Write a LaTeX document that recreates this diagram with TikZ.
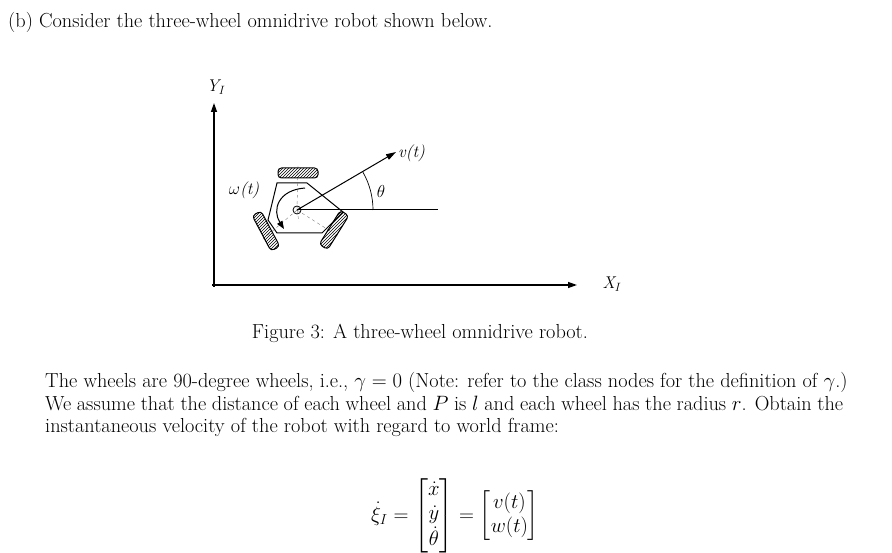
\documentclass[tikz,border=0pt]{standalone}
\usepackage{amsmath}
\usetikzlibrary{patterns,arrows.meta}
\begin{document}
\begin{tikzpicture}[x=1pt,y=-1pt,
  txt/.style={inner sep=0pt,font=\fontsize{20.3}{24}\selectfont},
  lbl/.style={inner sep=0pt,font=\fontsize{17}{20}\selectfont},
  ax/.style={line width=1.3pt,-{Triangle[length=9pt,width=6pt]}},
  wheel/.style={draw,line width=1pt,rounded corners=3.5pt,pattern=north east lines}]
\useasboundingbox (0,0) rectangle (892,553);
\node[txt,anchor=base west] (hdr) at (8,28) {(b) Consider the three-wheel omnidrive robot shown below.};
% axes
\coordinate (Yt) at (214,103);
\coordinate (Xt) at (577,285);
\draw[ax] (214,287) -- (Yt);
\draw[ax] (212,285) -- (Xt);
\node[lbl,font=\fontsize{17}{20}\selectfont\itshape] (yl) at (216,87) {Y$_I$};
\node[lbl,font=\fontsize{17}{20}\selectfont\itshape] (xl) at (612,284) {X$_I$};
% robot
\coordinate (C) at (297,210);
\draw[line width=1pt] (277,183) -- (307,183) -- (343,212) -- (322,233) -- (277,233) -- (268,220) -- cycle;
\draw[gray,dashed,thin] (C) -- (298,166) (C) -- (262,240) (C) -- (338,236) (C)--(299,222);
\node[wheel,minimum width=40pt,minimum height=10pt] (w1) at (298,173) {};
\node[wheel,minimum width=40pt,minimum height=10pt,rotate=-62] (w2) at (266,231) {};
\node[wheel,minimum width=40pt,minimum height=10pt,rotate=58] (w3) at (334,230) {};
\draw[line width=0.8pt] (C) circle (4pt);
\draw[line width=1pt] (C) -- (438,210);
\draw[line width=1pt,-{Triangle[length=10pt,width=6pt]}] (C) -- (396,152);
\node[lbl,font=\fontsize{17}{20}\selectfont\itshape,anchor=west] (vl) at (398,153) {v(t)};
\draw[line width=0.7pt] (373,210) arc[start angle=0,end angle=-30,radius=76];
\node[lbl] (th) at (381,192) {$\theta$};
\draw[line width=1pt,-{Triangle[length=8pt,width=6pt]}] (305,188) .. controls (278,190) and (272,210) .. (284,229);
\node[lbl] (om) at (244,190) {$\omega$\textit{(t)}};
% caption
\node[txt,anchor=base] (cap) at (420,339) {Figure 3: A three-wheel omnidrive robot.};
% paragraph
\node[txt,anchor=base west] (p1) at (45,388) {The wheels are 90-degree wheels, i.e., $\gamma=0$ (Note: refer to the class nodes for the definition of $\gamma$.)};
\node[txt,anchor=base west] (p2) at (45,410) {\makebox[798pt][s]{We assume that the distance of each wheel and $P$ is $l$ and each wheel has the radius $r$. Obtain the}};
\node[txt,anchor=base west] (p3) at (45,432) {instantaneous velocity of the robot with regard to world frame:};
\node[txt] (eq) at (455,516) {$\dot{\xi}_I=\begin{bmatrix}\dot{x}\\ \dot{y}\\ \dot{\theta}\end{bmatrix}=\begin{bmatrix}v(t)\\ w(t)\end{bmatrix}$};
\end{tikzpicture}
\end{document}
